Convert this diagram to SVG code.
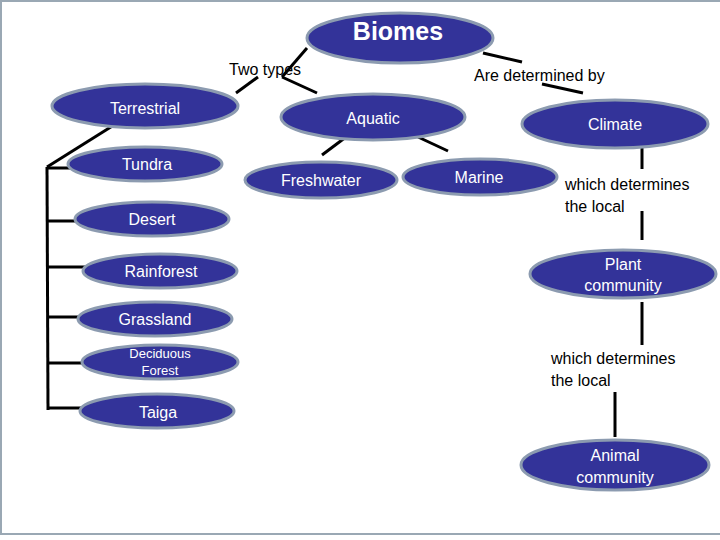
<svg xmlns="http://www.w3.org/2000/svg" width="720" height="540" viewBox="0 0 720 540">
<style>
.n{fill:#333399;stroke:#8c9bb0;stroke-width:3}
.t{fill:#fff;font-family:"Liberation Sans",Arial,sans-serif;font-size:16px;text-anchor:middle}
.l{fill:#000;font-family:"Liberation Sans",Arial,sans-serif;font-size:16px}
.c line{stroke:#000;stroke-width:3}
</style>
<rect x="0" y="0" width="720" height="540" fill="#fff"/>
<rect x="1" y="1" width="730" height="533" fill="none" stroke="#9aa8b4" stroke-width="2"/>
<g class="c" id="connectors">
<line x1="307" y1="48" x2="282" y2="77"/><line x1="258" y1="77" x2="236" y2="93"/><line x1="282" y1="77" x2="317" y2="93"/>
<line x1="483" y1="53" x2="522" y2="62"/><line x1="542" y1="84" x2="583" y2="93"/>
<line x1="114" y1="125" x2="47" y2="167"/><line x1="47" y1="167" x2="48" y2="410"/>
<line x1="47" y1="168" x2="87" y2="168"/><line x1="48" y1="221" x2="85" y2="221"/><line x1="48" y1="267" x2="87" y2="267"/>
<line x1="48" y1="317" x2="87" y2="317"/><line x1="48" y1="363" x2="87" y2="363"/><line x1="48" y1="408" x2="87" y2="408"/>
<line x1="346" y1="137" x2="322" y2="155"/><line x1="418" y1="137" x2="448" y2="151"/>
<line x1="642" y1="146" x2="642" y2="169"/><line x1="642" y1="211" x2="642" y2="240"/>
<line x1="642" y1="302" x2="642" y2="345"/><line x1="615" y1="392" x2="615" y2="437"/>
</g>
<text class="l" x="229" y="75">Two types</text>
<text class="l" x="474" y="81">Are determined by</text>
<text class="l" x="565" y="190">which determines</text><text class="l" x="565" y="212">the local</text>
<text class="l" x="551" y="364">which determines</text><text class="l" x="551" y="386">the local</text>
<g id="biomes"><ellipse class="n" cx="400" cy="38" rx="93" ry="25"/><text class="t" x="398" y="40" style="font-size:25px;font-weight:bold">Biomes</text></g>
<g id="terrestrial"><ellipse class="n" cx="145" cy="106" rx="93" ry="22"/><text class="t" x="145" y="114">Terrestrial</text></g>
<g id="aquatic"><ellipse class="n" cx="373" cy="117" rx="92" ry="23"/><text class="t" x="373" y="124">Aquatic</text></g>
<g id="climate"><ellipse class="n" cx="615" cy="124" rx="93" ry="24"/><text class="t" x="615" y="130">Climate</text></g>
<g id="tundra"><ellipse class="n" cx="145" cy="164" rx="77" ry="17"/><text class="t" x="147" y="170">Tundra</text></g>
<g id="freshwater"><ellipse class="n" cx="321" cy="180" rx="76" ry="18"/><text class="t" x="321" y="186">Freshwater</text></g>
<g id="marine"><ellipse class="n" cx="480" cy="177" rx="77" ry="18"/><text class="t" x="479" y="183">Marine</text></g>
<g id="desert"><ellipse class="n" cx="152" cy="219" rx="77" ry="17"/><text class="t" x="152" y="225">Desert</text></g>
<g id="rainforest"><ellipse class="n" cx="160" cy="271" rx="77" ry="17"/><text class="t" x="161" y="277">Rainforest</text></g>
<g id="grassland"><ellipse class="n" cx="155" cy="319" rx="77" ry="17"/><text class="t" x="155" y="325">Grassland</text></g>
<g id="deciduous"><ellipse class="n" cx="160" cy="362" rx="78" ry="17"/><text class="t" x="160" y="358" style="font-size:13px">Deciduous</text><text class="t" x="160" y="375" style="font-size:13px">Forest</text></g>
<g id="taiga"><ellipse class="n" cx="157" cy="411" rx="77" ry="17"/><text class="t" x="158" y="418">Taiga</text></g>
<g id="plant"><ellipse class="n" cx="623" cy="274" rx="93" ry="24"/><text class="t" x="623" y="270">Plant</text><text class="t" x="623" y="291">community</text></g>
<g id="animal"><ellipse class="n" cx="615" cy="465" rx="94" ry="25"/><text class="t" x="615" y="461">Animal</text><text class="t" x="615" y="483">community</text></g>
</svg>
